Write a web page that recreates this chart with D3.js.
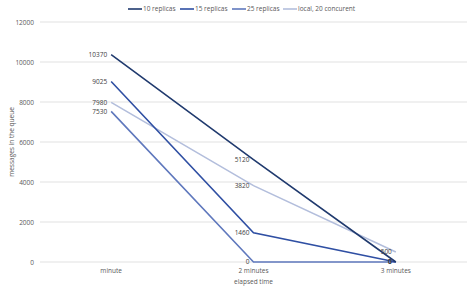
<!DOCTYPE html>
<html>
<head>
<meta charset="utf-8">
<script src="https://cdn.jsdelivr.net/npm/d3@7"></script>
<style>
  body { margin: 0; background: #fff; }
  text { font-family: 'Open Sans', 'Liberation Sans', sans-serif; fill: #595959; }
</style>
</head>
<body>
<div class="svg-div"></div>
<script>
const categories = ['minute', '2 minutes', '3 minutes']
const seriesNames = ['10 replicas', '15 replicas', '25 replicas', 'local, 20 concurent']
const replicas10 = [10370, 5120, 0]
const replicas15 = [9025, 1460, 0]
const replicas25 = [7530, 0, 0]
const local20 = [7980, 3820, 500]
const yTicks = [0, 2000, 4000, 6000, 8000, 10000, 12000]
const colors = ['#203a6e', '#2f4fa3', '#5f78bd', '#b3bedc']

const seriesValues = [replicas10, replicas15, replicas25, local20]

const w = 474
const h = 292
const plotLeft = 40
const plotRight = 467
const plotTop = 22
const plotBottom = 262

const svg = d3.select('.svg-div')
    .append('svg')
    .attr('width', w)
    .attr('height', h)

const xScale = d3.scaleBand()
    .domain(categories)
    .range([plotLeft, plotRight])

const yScale = d3.scaleLinear()
    .domain([0, 12000])
    .range([plotBottom, plotTop])

// gridlines
svg.append('g')
    .selectAll('line')
    .data(yTicks)
    .enter()
    .append('line')
    .attr('x1', plotLeft)
    .attr('x2', plotRight)
    .attr('y1', d => yScale(d))
    .attr('y2', d => yScale(d))
    .attr('stroke', '#d9d9d9')
    .attr('stroke-width', 0.8)

const yAxis = d3.axisLeft(yScale)
    .tickValues(yTicks)
    .tickFormat(d3.format('d'))
    .tickSize(0)
    .tickPadding(5)
svg.append('g')
    .attr('transform', 'translate(' + (plotLeft - 1) + ',0)')
    .call(yAxis)
    .call(g => g.select('.domain').remove())
    .selectAll('text')
    .attr('font-size', 6.5)
    .style('fill', '#595959')

const xAxis = d3.axisBottom(xScale).tickSize(0).tickPadding(6)
svg.append('g')
    .attr('transform', 'translate(0,' + plotBottom + ')')
    .call(xAxis)
    .call(g => g.select('.domain').remove())
    .selectAll('text')
    .attr('font-size', 6.5)
    .style('fill', '#595959')

const line = d3.line()
    .x((d, i) => xScale(categories[i]) + xScale.bandwidth() / 2)
    .y(d => yScale(d))

// draw from back to front so that the darkest series sits on top
const order = [3, 2, 1, 0]
order.forEach(k => {
    svg.append('path')
        .datum(seriesValues[k])
        .attr('d', line)
        .attr('fill', 'none')
        .attr('stroke', colors[k])
        .attr('stroke-width', 1.6)
})

// data labels, left of each point
seriesValues.forEach((vals, k) => {
    svg.append('g')
        .selectAll('text')
        .data(vals)
        .enter()
        .append('text')
        .attr('x', (d, i) => xScale(categories[i]) + xScale.bandwidth() / 2 - 4)
        .attr('y', d => yScale(d) + 2.2)
        .attr('text-anchor', 'end')
        .attr('font-size', 6.5)
        .style('fill', '#404040')
        .text(d => d)
})

// axis titles
svg.append('text')
    .attr('x', (plotLeft + plotRight) / 2)
    .attr('y', 284)
    .attr('text-anchor', 'middle')
    .attr('font-size', 6.5)
    .text('elapsed time')

svg.append('text')
    .attr('transform', 'rotate(-90)')
    .attr('x', -142)
    .attr('y', 14)
    .attr('text-anchor', 'middle')
    .attr('font-size', 6.5)
    .text('messages in the queue')

// legend
const legendX = [128, 180, 232, 283]
const legend = svg.append('g')
seriesNames.forEach((name, k) => {
    legend.append('line')
        .attr('x1', legendX[k])
        .attr('x2', legendX[k] + 14)
        .attr('y1', 9)
        .attr('y2', 9)
        .attr('stroke', colors[k])
        .attr('stroke-width', 1.6)
    legend.append('text')
        .attr('x', legendX[k] + 15)
        .attr('y', 11.3)
        .attr('font-size', 6.5)
        .text(name)
})
</script>
</body>
</html>
